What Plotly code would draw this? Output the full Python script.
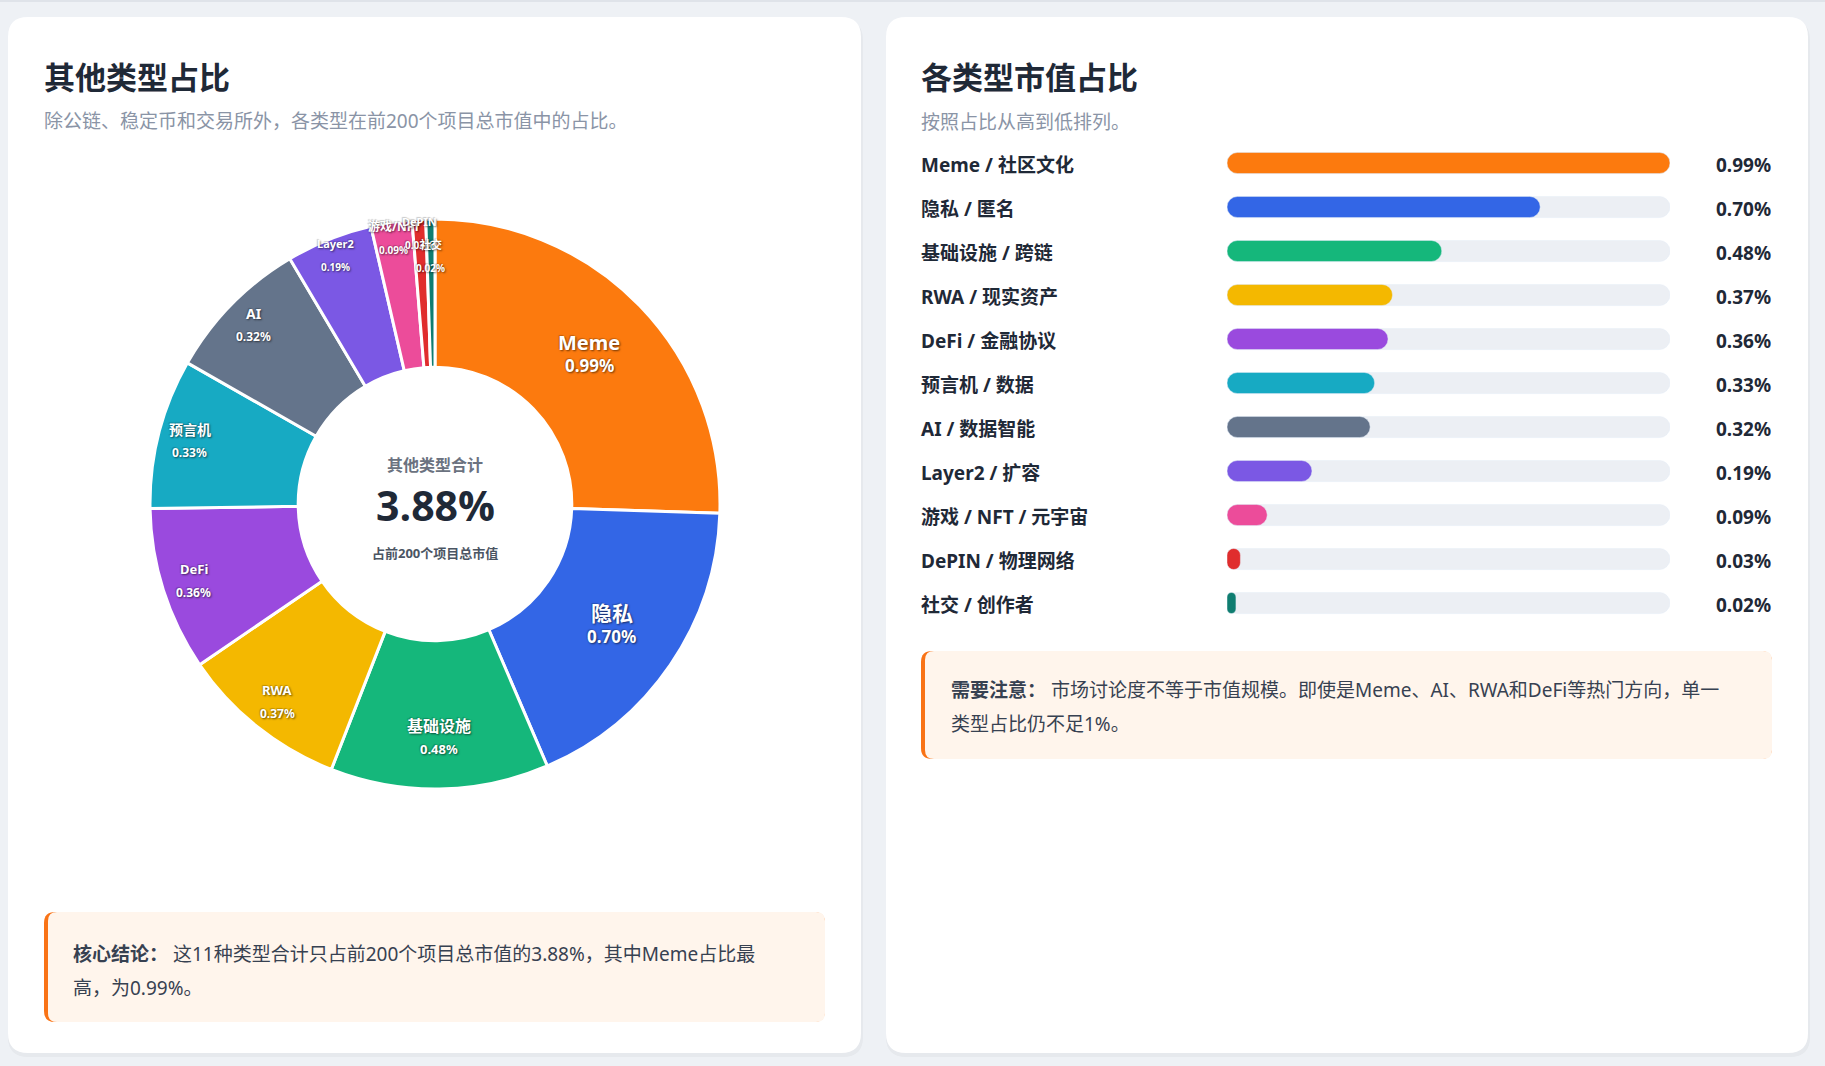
import math
import plotly.graph_objects as go

W, H = 1825, 1066

# --- data ---
short_names = ["Meme", "隐私", "基础设施", "RWA", "DeFi", "预言机", "AI", "Layer2", "游戏/NFT", "DePIN", "社交"]
long_names = ["Meme / 社区文化", "隐私 / 匿名", "基础设施 / 跨链", "RWA / 现实资产", "DeFi / 金融协议",
              "预言机 / 数据", "AI / 数据智能", "Layer2 / 扩容", "游戏 / NFT / 元宇宙", "DePIN / 物理网络",
              "社交 / 创作者"]
shares = [0.99, 0.70, 0.48, 0.37, 0.36, 0.33, 0.32, 0.19, 0.09, 0.03, 0.02]
colors = ["#fc7a0e", "#3366e6", "#15b77b", "#f4b800", "#9a4ade", "#17aac3",
          "#64748b", "#7b58e4", "#ec4c9a", "#e02d2d", "#0f7d70"]

left_title = "其他类型占比"
left_sub = "除公链、稳定币和交易所外，各类型在前200个项目总市值中的占比。"
right_title = "各类型市值占比"
right_sub = "按照占比从高到低排列。"
left_note = ["<b>核心结论：</b> 这11种类型合计只占前200个项目总市值的3.88%，其中Meme占比最", "高，为0.99%。"]
right_note = ["<b>需要注意：</b> 市场讨论度不等于市值规模。即使是Meme、AI、RWA和DeFi等热门方向，单一", "类型占比仍不足1%。"]

# slice label styling (distance from centre and font sizes)
label_r = [215, 214, 234, 253, 253, 253, 255, 268, 269, 271, 248]
label_size = [20, 21, 16, 13, 13, 14, 14, 11, 12, 11, 11]
value_size = [17, 17, 13, 12, 12, 12, 12, 10, 10, 10, 10]

FONT = "Noto Sans, Noto Sans CJK SC, sans-serif"
DARK = "#1f2937"
HALO = "1px 1px 2px rgba(0,0,0,0.55), -1px -1px 1px rgba(0,0,0,0.2)"

# donut geometry (px)
CX, CY, R_OUT = 435, 504, 285


def px(x):
    return x / W


def py(y):
    return 1 - y / H


def rrect(x0, y0, x1, y1, r, color):
    path = (f"M {px(x0 + r)},{py(y0)} L {px(x1 - r)},{py(y0)} Q {px(x1)},{py(y0)} {px(x1)},{py(y0 + r)} "
            f"L {px(x1)},{py(y1 - r)} Q {px(x1)},{py(y1)} {px(x1 - r)},{py(y1)} "
            f"L {px(x0 + r)},{py(y1)} Q {px(x0)},{py(y1)} {px(x0)},{py(y1 - r)} "
            f"L {px(x0)},{py(y0 + r)} Q {px(x0)},{py(y0)} {px(x0 + r)},{py(y0)} Z")
    return dict(type="path", path=path, xref="paper", yref="paper", fillcolor=color,
                line=dict(width=0), layer="below")


def label(x, y, text, size, color, xanchor="left", bold=False, family=FONT, **kw):
    return dict(x=px(x), y=py(y), xref="paper", yref="paper", text=text, showarrow=False,
                xanchor=xanchor, yanchor="middle",
                font=dict(size=size, color=color, family=family, weight="bold" if bold else "normal", **kw))


fig = go.Figure()

# donut
fig.add_trace(go.Pie(
    labels=short_names, values=shares, sort=False, direction="clockwise", rotation=0,
    hole=0.48,
    marker=dict(colors=colors, line=dict(color="white", width=3)),
    textinfo="none",
    domain=dict(x=[px(CX - R_OUT), px(CX + R_OUT)], y=[py(CY + R_OUT), py(CY - R_OUT)]),
    showlegend=False, hoverinfo="skip",
))

# progress bars: track then value, pill shaped
mx = max(shares)
bar_w = 0.48
fig.add_trace(go.Bar(
    orientation="h", y=long_names, x=[mx for _ in shares], base=[0 for _ in shares],
    marker=dict(color="#eceff4", cornerradius="50%"), width=bar_w,
    showlegend=False, hoverinfo="skip",
))
fig.add_trace(go.Bar(
    orientation="h", y=long_names, x=shares, base=[0 for _ in shares],
    marker=dict(color=colors, cornerradius="50%"), width=bar_w,
    showlegend=False, hoverinfo="skip",
))

shapes = [
    dict(type="rect", xref="paper", yref="paper", x0=0, x1=1, y0=py(2), y1=1,
         fillcolor="#dfe3e9", line=dict(width=0), layer="below"),
    rrect(8, 20, 863, 1057, 20, "rgba(15,23,42,0.035)"),
    rrect(886, 20, 1810, 1057, 20, "rgba(15,23,42,0.035)"),
    rrect(8, 17, 861, 1053, 20, "white"),
    rrect(886, 17, 1808, 1053, 20, "white"),
    rrect(44, 912, 825, 1022, 11, "#f97316"),
    rrect(48, 912, 825, 1022, 9, "#fff5ec"),
    rrect(921, 651, 1772, 759, 11, "#f97316"),
    rrect(925, 651, 1772, 759, 9, "#fff5ec"),
]

annotations = [
    label(42, 77, left_title, 31, DARK, bold=True),
    label(42, 121, left_sub, 19, "#8a94a6"),
    label(919, 77, right_title, 31, DARK, bold=True),
    label(919, 122, right_sub, 19, "#8a94a6"),
    label(71, 954, left_note[0], 19, "#374151"),
    label(71, 988, left_note[1], 19, "#374151"),
    label(949, 690, right_note[0], 19, "#374151"),
    label(949, 724, right_note[1], 19, "#374151"),
    # donut centre
    label(CX, 465, "其他类型合计", 16, "#6b7280", xanchor="center", bold=True),
    label(CX, 505, f"{sum(shares):.2f}%", 41, DARK, xanchor="center", bold=True, family="Open Sans, sans-serif"),
    label(CX, 553, "占前200个项目总市值", 13, "#4b5563", xanchor="center", bold=True),
]

# slice labels on each slice's bisector
total = sum(shares)
cum = 0
for i, (name, v) in enumerate(zip(short_names, shares)):
    mid = 2 * math.pi * (cum + v / 2) / total
    cum += v
    r = label_r[i]
    x = CX + r * math.sin(mid)
    y = CY - r * math.cos(mid)
    annotations.append(label(x, y - 11.5, name, label_size[i], "white", xanchor="center", bold=True,
                             shadow=HALO))
    annotations.append(label(x, y + 11.5, f"{v:.2f}%", value_size[i], "white", xanchor="center", bold=True,
                             shadow=HALO))

for name, v in zip(long_names, shares):
    annotations.append(dict(x=px(919), xref="paper", y=name, yref="y", text=name, showarrow=False,
                            xanchor="left", yshift=-2,
                            font=dict(size=19, color=DARK, family=FONT, weight="bold")))
    annotations.append(dict(x=px(1773), xref="paper", y=name, yref="y", text=f"{v:.2f}%", showarrow=False,
                            xanchor="right", yshift=-2,
                            font=dict(size=19, color=DARK, family=FONT, weight="bold")))

fig.update_layout(
    width=W, height=H,
    margin=dict(l=0, r=0, t=0, b=0),
    paper_bgcolor="#eef1f5", plot_bgcolor="rgba(0,0,0,0)",
    barmode="overlay",
    xaxis=dict(domain=[px(1227), px(1670)], range=[0, mx], showgrid=False, zeroline=False,
               showticklabels=False, fixedrange=True),
    yaxis=dict(domain=[py(625), py(141)], type="category", categoryarray=long_names,
               range=[len(long_names) - 0.5, -0.5], showgrid=False, zeroline=False,
               showticklabels=False, fixedrange=True),
    shapes=shapes,
    annotations=annotations,
    font=dict(family=FONT),
)

fig.write_html("out.html", config={"displayModeBar": False},
               post_script="document.body.style.margin='0';document.body.style.overflow='hidden';")
